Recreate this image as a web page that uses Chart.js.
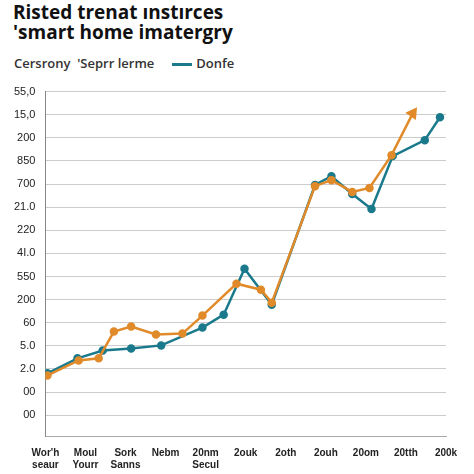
<!DOCTYPE html>
<html><head><meta charset="utf-8">
<script src="https://cdn.jsdelivr.net/npm/chart.js@4"></script>
<style>
body{margin:0;background:#fff;font-family:"Open Sans",Inter,sans-serif;}
h1{position:absolute;left:13px;top:2px;margin:0;font-size:19px;line-height:20px;font-weight:700;color:#111;}
.lg{position:absolute;left:14px;top:54px;font-size:13px;font-weight:600;color:#333;}
.lg span.sw{display:inline-block;width:20px;height:3px;background:#1a7a8c;vertical-align:middle;margin:0 4px 0 18px;}
#wrap{position:absolute;left:0;top:75px;width:474px;height:399px;}
</style></head><body>
<h1>Risted trenat ınstırces<br>'smart home imatergry</h1>
<div class="lg">Cersrony &nbsp;'Seprr lerme<span class="sw"></span>Donfe</div>
<div id="wrap"><canvas id="c"></canvas></div>
<script>
const xLabels = [["Wor'h","seaur"],["Moul","Yourr"],["Sork","Sanns"],"Nebm",["20nm","Secul"],"2ouk","2oth","2ouh","20om","20tth","200k"];
const yLabels = ["00","00","2.0","5.0","60","200","550","4I.0","220","21.0","700","850","200","15,0","55,0"];
const tealX = [0.05,0.8,1.43,2.14,2.89,3.92,4.45,4.97,5.65,6.73,7.14,7.66,8.14,8.67,9.47,9.85];
const tealY = [1.81,2.46,2.8,2.89,3.02,3.79,4.35,6.34,4.78,9.96,10.34,9.57,8.92,11.21,11.9,12.89];
const orangeX = [0.05,0.83,1.33,1.71,2.14,2.76,3.42,3.92,4.77,5.38,5.65,6.73,7.14,7.66,8.09,8.64,9.17];
const orangeY = [1.72,2.37,2.46,3.62,3.84,3.49,3.53,4.31,5.69,5.43,4.87,9.91,10.17,9.66,9.83,11.25,13.06];
const pts = (xs, ys) => xs.map((x, i) => ({x: x, y: ys[i]}));
new Chart(document.getElementById("c"), {
  type: "line",
  data: {datasets: [
    {label: "Cersrony 'Seprr lerme", data: pts(orangeX, orangeY), borderColor: "#e08a2a", backgroundColor: "#e08a2a", borderWidth: 2.5, pointStyle: orangeX.map((_, i) => i === orangeX.length - 1 ? "triangle" : "circle"), pointRadius: orangeX.map((_, i) => i === orangeX.length - 1 ? 5 : 3), pointRotation: 35, tension: 0},
    {label: "Donfe", data: pts(tealX, tealY), borderColor: "#1a7a8c", backgroundColor: "#1a7a8c", borderWidth: 2.5, pointRadius: 3, tension: 0}
  ]},
  options: {
    maintainAspectRatio: false, animation: false,
    layout: {padding: {left: 4, right: 28, top: 0, bottom: 0}},
    plugins: {legend: {display: false}, tooltip: {enabled: false}},
    scales: {
      x: {type: "linear", min: 0, max: 10, offset: false,
        grid: {display: false, drawTicks: true}, border: {color: "#aaa"},
        ticks: {stepSize: 1, autoSkip: false, maxRotation: 0, color: "#222", font: {size: 10, weight: "bold"}, callback: v => xLabels[v]}},
      y: {min: -0.9, max: 14, afterBuildTicks: a => { a.ticks = yLabels.map((_, i) => ({value: i})); },
        grid: {color: "#ccc", drawTicks: false}, border: {color: "#888"},
        ticks: {color: "#222", font: {size: 11}, padding: 10, callback: v => yLabels[v]}}
    }
  }
});
</script></body></html>
